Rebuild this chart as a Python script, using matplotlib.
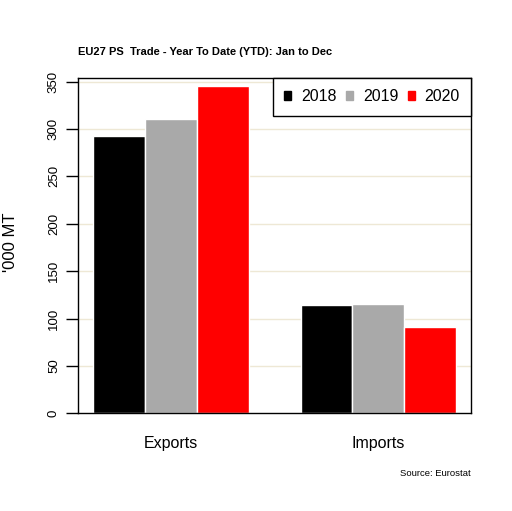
import numpy as np
import matplotlib.pyplot as plt
from matplotlib.patches import Patch

plt.rcParams['font.family'] = ['Liberation Sans', 'DejaVu Sans']

categories = ['Exports', 'Imports']
years = ['2018', '2019', '2020']
values = {
    '2018': [292.6, 114.3],
    '2019': [310.5, 115.7],
    '2020': [345.4, 91.1],
}
colors = ['black', '#A9A9A9', 'red']
yticks = [0, 50, 100, 150, 200, 250, 300, 350]

fig = plt.figure(figsize=(5.12, 5.11), dpi=100)
ax = fig.add_axes([0.1523, 0.191, 0.7677, 0.6558])

# R style barplot: bars of width 1, one unit gap before each group
for i, yr in enumerate(years):
    xs = [1 + i + 4 * g for g in range(len(categories))]
    ax.bar(xs, values[yr], width=1, align='edge', color=colors[i],
           edgecolor='white', linewidth=1, zorder=2)

for y in yticks[1:]:
    ax.axhline(y, color='#EEE8D5', linewidth=1, zorder=1)

ax.set_xlim(0.72, 8.28)
ax.set_ylim(0, 353.5)
ax.set_yticks(yticks)
ax.set_yticklabels([str(t) for t in yticks], rotation=90, va='center', fontsize=9.5)
ax.tick_params(axis='y', length=9, width=1, pad=4)
ax.set_xticks([2.5, 6.5])
ax.set_xticklabels(categories, fontsize=11.5)
ax.tick_params(axis='x', length=0, pad=16)
for s in ax.spines.values():
    s.set_linewidth(1)

fig.text(11 / 512, 1 - 242 / 511, "'000 MT", fontsize=12, rotation=90,
         va='center', ha='center')

handles = [Patch(facecolor=c, edgecolor=c) for c in colors]
ax.legend(handles, years, ncol=3, loc='upper right', borderaxespad=0,
          fancybox=False, edgecolor='black', framealpha=1, fontsize=11.5,
          handlelength=0.45, handleheight=0.45, handletextpad=0.6,
          columnspacing=0.6, borderpad=0.7)
ax.get_legend().get_frame().set_linewidth(1)

fig.text(78 / 512, 1 - 52 / 511, 'EU27 PS  Trade - Year To Date (YTD): Jan to Dec',
         fontsize=8, fontweight='bold', va='center', ha='left')
fig.text(471 / 512, 1 - 473 / 511, 'Source: Eurostat', fontsize=6.8,
         va='center', ha='right')

fig.savefig('out.png', dpi=100)
